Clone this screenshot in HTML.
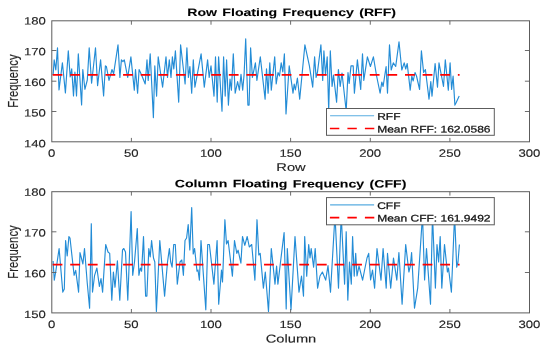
<!DOCTYPE html>
<html><head><meta charset="utf-8"><title>Floating Frequency</title>
<style>html,body{margin:0;padding:0;background:#fff}svg{display:block}text{font-family:"Liberation Sans",Arial,sans-serif}</style></head><body>
<svg width="550" height="349" viewBox="0 0 550 349">
<rect width="550" height="349" fill="#fff"/>
<polyline points="53.1,75.0 54.2,59.9 55.8,70.0 57.5,47.8 59.0,89.9 62.4,62.9 65.4,92.9 68.3,50.8 70.2,77.0 71.7,68.9 73.5,95.9 74.9,72.0 76.5,95.9 78.3,53.9 81.6,104.9 82.8,69.5 84.9,89.3 87.3,80.0 89.2,47.8 91.6,83.2 95.5,47.8 97.6,85.6 100.6,59.9 103.6,95.9 105.4,65.9 106.4,66.5 109.0,80.4 112.0,69.5 113.6,73.8 118.0,44.8 119.9,77.4 121.4,59.9 122.9,61.7 124.3,59.9 127.7,77.4 130.9,56.9 134.3,90.1 135.5,69.5 137.6,93.1 139.1,69.5 142.0,76.0 145.2,84.0 147.0,59.9 148.2,80.4 150.2,53.9 153.4,117.6 154.8,65.9 156.6,96.1 158.2,56.9 162.6,87.1 166.0,56.9 167.5,77.4 169.3,59.9 171.0,77.4 172.4,56.9 173.8,69.0 175.4,50.9 178.7,102.1 180.6,44.8 185.1,84.0 186.9,47.9 188.4,77.4 189.9,66.5 191.7,93.1 193.3,59.9 194.9,87.1 201.1,53.9 204.3,87.1 207.6,59.9 209.2,77.4 211.0,65.9 214.0,96.1 215.5,56.9 217.2,102.1 218.6,56.9 222.0,111.2 223.6,56.9 225.2,96.1 226.6,59.9 228.4,105.1 230.0,79.0 231.4,90.1 233.3,53.9 235.2,93.1 237.6,81.6 239.4,90.1 241.0,74.4 242.7,90.1 244.1,74.4 245.7,38.8 247.9,105.1 249.1,105.1 250.6,47.9 252.4,77.4 255.4,62.9 256.9,80.4 260.3,56.9 265.1,99.1 266.5,68.9 268.1,93.1 269.8,62.9 271.3,90.1 274.7,56.9 276.2,84.0 278.0,72.5 279.5,76.0 281.2,62.9 282.8,72.0 284.4,53.9 286.0,114.0 289.2,65.9 293.0,93.1 294.2,84.0 295.4,90.0 297.4,78.0 299.7,99.1 304.9,44.8 309.4,65.9 312.7,87.1 314.6,56.9 316.1,77.4 317.5,72.0 320.9,44.8 322.7,80.4 323.9,50.9 325.5,75.0 327.2,56.9 328.7,111.0 330.3,50.9 332.1,86.5 333.5,75.0 336.6,102.1 338.4,69.5 340.2,86.5 342.0,73.0 346.2,111.0 348.0,72.5 349.2,83.4 351.0,65.9 353.2,65.9 354.4,93.1 357.4,59.9 360.7,89.5 362.5,53.9 363.8,80.4 367.4,56.9 370.4,66.5 373.4,56.9 376.6,76.0 380.1,93.1 381.8,82.0 383.1,86.5 386.1,66.5 387.5,93.1 389.5,44.8 391.2,70.0 393.3,62.9 395.7,66.5 399.0,41.8 401.8,70.0 404.2,62.9 405.7,69.0 407.2,63.5 410.2,90.1 411.8,76.0 413.2,81.0 415.0,72.5 416.5,76.0 419.6,89.5 421.4,50.9 423.6,72.5 425.4,69.5 429.0,99.1 430.8,81.6 432.0,96.1 435.1,63.5 437.5,87.1 439.0,62.9 443.5,86.5 445.3,59.9 448.3,90.1 450.1,62.9 451.6,89.5 453.1,76.0 454.9,105.1 456.1,102.7 459.2,96.1" fill="none" stroke="#238cd6" stroke-width="1.15" stroke-linejoin="round"/>
<path d="M52.6 74.9H459.6" stroke="#f00" stroke-width="1.75" stroke-dasharray="9.8 7.82" fill="none"/>
<rect x="51.8" y="20.8" width="477.7" height="121.0" fill="none" stroke="#5c5c5c" stroke-width="1"/>
<path d="M131.4 141.8v-3.9M131.4 20.8v3.9" stroke="#5c5c5c" stroke-width="0.9"/>
<path d="M211.0 141.8v-3.9M211.0 20.8v3.9" stroke="#5c5c5c" stroke-width="0.9"/>
<path d="M290.6 141.8v-3.9M290.6 20.8v3.9" stroke="#5c5c5c" stroke-width="0.9"/>
<path d="M370.3 141.8v-3.9M370.3 20.8v3.9" stroke="#5c5c5c" stroke-width="0.9"/>
<path d="M449.9 141.8v-3.9M449.9 20.8v3.9" stroke="#5c5c5c" stroke-width="0.9"/>
<text transform="translate(45.9 24.5) rotate(0.05) scale(1.24 1.0)" text-anchor="end" font-size="10.6" fill="#222" stroke="#222" stroke-width="0.12">180</text>
<path d="M51.8 50.5h4.6M529.5 50.5h-4.6" stroke="#5c5c5c" stroke-width="0.9"/>
<text transform="translate(45.9 55.2) rotate(0.05) scale(1.24 1.0)" text-anchor="end" font-size="10.6" fill="#222" stroke="#222" stroke-width="0.12">170</text>
<path d="M51.8 81.2h4.6M529.5 81.2h-4.6" stroke="#5c5c5c" stroke-width="0.9"/>
<text transform="translate(45.9 85.9) rotate(0.05) scale(1.24 1.0)" text-anchor="end" font-size="10.6" fill="#222" stroke="#222" stroke-width="0.12">160</text>
<path d="M51.8 111.5h4.6M529.5 111.5h-4.6" stroke="#5c5c5c" stroke-width="0.9"/>
<text transform="translate(45.9 116.6) rotate(0.05) scale(1.24 1.0)" text-anchor="end" font-size="10.6" fill="#222" stroke="#222" stroke-width="0.12">150</text>
<text transform="translate(45.9 147.3) rotate(0.05) scale(1.24 1.0)" text-anchor="end" font-size="10.6" fill="#222" stroke="#222" stroke-width="0.12">140</text>
<text transform="translate(51.7 156.8) rotate(0.05) scale(1.24 1.0)" text-anchor="middle" font-size="10.6" fill="#222" stroke="#222" stroke-width="0.12">0</text>
<text transform="translate(131.3 156.8) rotate(0.05) scale(1.24 1.0)" text-anchor="middle" font-size="10.6" fill="#222" stroke="#222" stroke-width="0.12">50</text>
<text transform="translate(210.9 156.8) rotate(0.05) scale(1.24 1.0)" text-anchor="middle" font-size="10.6" fill="#222" stroke="#222" stroke-width="0.12">100</text>
<text transform="translate(290.5 156.8) rotate(0.05) scale(1.24 1.0)" text-anchor="middle" font-size="10.6" fill="#222" stroke="#222" stroke-width="0.12">150</text>
<text transform="translate(370.2 156.8) rotate(0.05) scale(1.24 1.0)" text-anchor="middle" font-size="10.6" fill="#222" stroke="#222" stroke-width="0.12">200</text>
<text transform="translate(449.8 156.8) rotate(0.05) scale(1.24 1.0)" text-anchor="middle" font-size="10.6" fill="#222" stroke="#222" stroke-width="0.12">250</text>
<text transform="translate(529.4 156.8) rotate(0.05) scale(1.24 1.0)" text-anchor="middle" font-size="10.6" fill="#222" stroke="#222" stroke-width="0.12">300</text>
<rect x="326.5" y="108.5" width="167.8" height="26.8" fill="#fff" stroke="#5c5c5c" stroke-width="1"/>
<path d="M330.1 115.8h44" stroke="#58ace0" stroke-width="1.1"/>
<path d="M329.9 128.5h44.8" stroke="#f00" stroke-width="1.7" stroke-dasharray="9.4 8.1"/>
<text transform="translate(377.2 119.8) rotate(0.05) scale(1.25 1.0)" text-anchor="start" font-size="9.6" fill="#111" stroke="#111" stroke-width="0.25">RFF</text>
<text transform="translate(377.2 132.4) rotate(0.05) scale(1.25 1.0)" text-anchor="start" font-size="9.6" fill="#111" stroke="#111" stroke-width="0.25">Mean RFF: 162.0586</text>
<text transform="translate(187.2 15.9) rotate(0.05) scale(1 0.76)" text-anchor="start" font-size="14.1" font-weight="bold" fill="#000" stroke="#000" stroke-width="0.12" word-spacing="1.5">Row Floating Frequency (RFF)</text>
<text transform="translate(291.0 171.0) rotate(0.05) scale(1.3 1.0)" text-anchor="middle" font-size="11.3" fill="#222" stroke="#222" stroke-width="0.12">Row</text>
<text transform="translate(17.5 81.1) rotate(-90) scale(1 1.26)" text-anchor="middle" font-size="11.3" fill="#222" stroke="#222" stroke-width="0.12">Frequency</text>
<polyline points="53.1,261.0 54.3,280.1 56.0,270.0 59.1,248.5 62.8,292.1 64.3,289.0 65.6,240.5 67.2,256.0 68.9,236.5 70.0,238.0 74.1,275.3 75.7,270.4 78.6,292.1 80.0,252.6 82.9,264.0 84.5,248.5 87.2,282.5 89.6,308.2 91.3,223.7 92.5,292.1 94.6,275.3 96.9,268.0 99.4,286.5 101.0,278.5 102.6,292.1 105.7,244.5 108.0,252.0 109.7,253.4 111.8,300.1 113.4,272.0 115.0,287.3 117.4,260.8 119.8,300.1 122.5,250.0 123.8,248.5 125.5,252.0 127.8,300.1 131.1,211.6 132.7,275.3 134.5,262.0 137.3,228.5 138.9,275.3 140.3,268.0 141.6,271.2 143.5,236.5 145.6,296.1 146.9,296.1 148.8,248.5 150.2,257.0 151.6,240.5 153.5,258.0 154.8,262.0 156.4,311.4 159.8,240.5 164.6,296.1 167.5,262.0 169.4,248.5 170.7,262.0 172.1,267.2 173.7,244.5 175.3,244.5 177.3,284.1 180.0,262.0 181.8,260.0 183.4,275.3 185.0,240.5 186.6,238.0 188.2,224.5 189.8,250.0 191.7,207.6 193.2,254.0 194.6,248.5 197.0,271.2 198.0,270.0 199.4,280.1 201.0,240.5 205.8,309.8 207.7,244.5 209.4,244.5 213.9,284.1 217.1,240.5 218.7,304.2 221.5,270.0 222.5,282.0 224.9,219.7 226.5,244.0 228.1,240.5 232.4,276.1 234.5,240.5 236.8,253.4 238.1,250.2 240.9,263.2 242.5,236.5 244.8,245.3 247.2,236.5 249.3,247.0 251.7,244.5 254.9,280.1 257.0,219.7 258.8,255.0 260.2,253.4 263.4,288.1 265.3,272.0 268.5,311.4 271.3,248.5 275.0,284.1 276.6,266.0 277.9,284.1 281.0,258.0 284.1,232.5 286.2,309.0 287.3,248.5 291.0,309.8 295.0,236.5 299.0,292.1 301.5,276.0 303.5,296.1 304.7,236.5 306.7,276.1 308.7,244.5 310.0,258.0 311.2,248.5 313.6,267.2 315.2,248.5 317.6,288.1 320.0,276.0 322.4,272.0 325.7,280.1 328.0,265.6 330.5,292.1 335.0,215.0 338.5,288.1 341.2,215.0 344.6,284.1 346.2,231.7 347.8,300.1 349.5,262.0 351.3,284.1 352.6,236.5 354.2,276.1 355.7,253.4 357.0,276.0 359.0,266.0 362.6,280.1 364.2,272.0 367.0,258.0 368.7,253.4 370.6,280.0 372.5,270.0 374.6,288.1 377.0,248.5 381.0,280.1 383.1,248.5 386.2,288.1 387.5,253.4 390.7,288.1 393.5,258.0 396.8,280.1 398.9,252.6 402.1,304.2 405.7,244.5 408.9,272.0 410.3,266.0 411.6,252.6 414.5,308.2 417.7,288.1 422.5,215.0 424.6,280.0 426.5,248.5 430.5,304.2 432.5,215.0 435.4,288.1 437.0,244.5 438.6,262.0 440.2,236.5 441.8,288.1 444.5,244.5 447.4,272.0 448.5,268.0 451.4,292.1 454.6,215.0 456.7,267.2 458.0,262.0 459.4,244.5" fill="none" stroke="#238cd6" stroke-width="1.15" stroke-linejoin="round"/>
<path d="M52.6 264.6H459.6" stroke="#f00" stroke-width="1.75" stroke-dasharray="9.8 7.82" fill="none"/>
<rect x="51.8" y="191.7" width="477.7" height="121.2" fill="none" stroke="#5c5c5c" stroke-width="1"/>
<path d="M131.4 312.9v-3.9M131.4 191.7v3.9" stroke="#5c5c5c" stroke-width="0.9"/>
<path d="M211.0 312.9v-3.9M211.0 191.7v3.9" stroke="#5c5c5c" stroke-width="0.9"/>
<path d="M290.6 312.9v-3.9M290.6 191.7v3.9" stroke="#5c5c5c" stroke-width="0.9"/>
<path d="M370.3 312.9v-3.9M370.3 191.7v3.9" stroke="#5c5c5c" stroke-width="0.9"/>
<path d="M449.9 312.9v-3.9M449.9 191.7v3.9" stroke="#5c5c5c" stroke-width="0.9"/>
<text transform="translate(45.9 195.8) rotate(0.05) scale(1.24 1.0)" text-anchor="end" font-size="10.6" fill="#222" stroke="#222" stroke-width="0.12">180</text>
<path d="M51.8 231.8h4.6M529.5 231.8h-4.6" stroke="#5c5c5c" stroke-width="0.9"/>
<text transform="translate(45.9 236.5) rotate(0.05) scale(1.24 1.0)" text-anchor="end" font-size="10.6" fill="#222" stroke="#222" stroke-width="0.12">170</text>
<path d="M51.8 272.5h4.6M529.5 272.5h-4.6" stroke="#5c5c5c" stroke-width="0.9"/>
<text transform="translate(45.9 277.3) rotate(0.05) scale(1.24 1.0)" text-anchor="end" font-size="10.6" fill="#222" stroke="#222" stroke-width="0.12">160</text>
<text transform="translate(45.9 318.0) rotate(0.05) scale(1.24 1.0)" text-anchor="end" font-size="10.6" fill="#222" stroke="#222" stroke-width="0.12">150</text>
<text transform="translate(51.7 327.9) rotate(0.05) scale(1.24 1.0)" text-anchor="middle" font-size="10.6" fill="#222" stroke="#222" stroke-width="0.12">0</text>
<text transform="translate(131.3 327.9) rotate(0.05) scale(1.24 1.0)" text-anchor="middle" font-size="10.6" fill="#222" stroke="#222" stroke-width="0.12">50</text>
<text transform="translate(210.9 327.9) rotate(0.05) scale(1.24 1.0)" text-anchor="middle" font-size="10.6" fill="#222" stroke="#222" stroke-width="0.12">100</text>
<text transform="translate(290.5 327.9) rotate(0.05) scale(1.24 1.0)" text-anchor="middle" font-size="10.6" fill="#222" stroke="#222" stroke-width="0.12">150</text>
<text transform="translate(370.2 327.9) rotate(0.05) scale(1.24 1.0)" text-anchor="middle" font-size="10.6" fill="#222" stroke="#222" stroke-width="0.12">200</text>
<text transform="translate(449.8 327.9) rotate(0.05) scale(1.24 1.0)" text-anchor="middle" font-size="10.6" fill="#222" stroke="#222" stroke-width="0.12">250</text>
<text transform="translate(529.4 327.9) rotate(0.05) scale(1.24 1.0)" text-anchor="middle" font-size="10.6" fill="#222" stroke="#222" stroke-width="0.12">300</text>
<rect x="326.5" y="197.6" width="167.8" height="27.2" fill="#fff" stroke="#5c5c5c" stroke-width="1"/>
<path d="M330.1 204.9h44" stroke="#58ace0" stroke-width="1.1"/>
<path d="M329.9 217.6h44.8" stroke="#f00" stroke-width="1.7" stroke-dasharray="9.4 8.1"/>
<text transform="translate(377.2 208.9) rotate(0.05) scale(1.25 1.0)" text-anchor="start" font-size="9.6" fill="#111" stroke="#111" stroke-width="0.25">CFF</text>
<text transform="translate(377.2 221.5) rotate(0.05) scale(1.25 1.0)" text-anchor="start" font-size="9.6" fill="#111" stroke="#111" stroke-width="0.25">Mean CFF: 161.9492</text>
<text transform="translate(174.8 187.3) rotate(0.05) scale(1 0.76)" text-anchor="start" font-size="14.1" font-weight="bold" fill="#000" stroke="#000" stroke-width="0.12" word-spacing="1.5">Column Floating Frequency (CFF)</text>
<text transform="translate(291.0 342.5) rotate(0.05) scale(1.3 1.0)" text-anchor="middle" font-size="11.3" fill="#222" stroke="#222" stroke-width="0.12">Column</text>
<text transform="translate(17.5 252.0) rotate(-90) scale(1 1.26)" text-anchor="middle" font-size="11.3" fill="#222" stroke="#222" stroke-width="0.12">Frequency</text>
</svg></body></html>
